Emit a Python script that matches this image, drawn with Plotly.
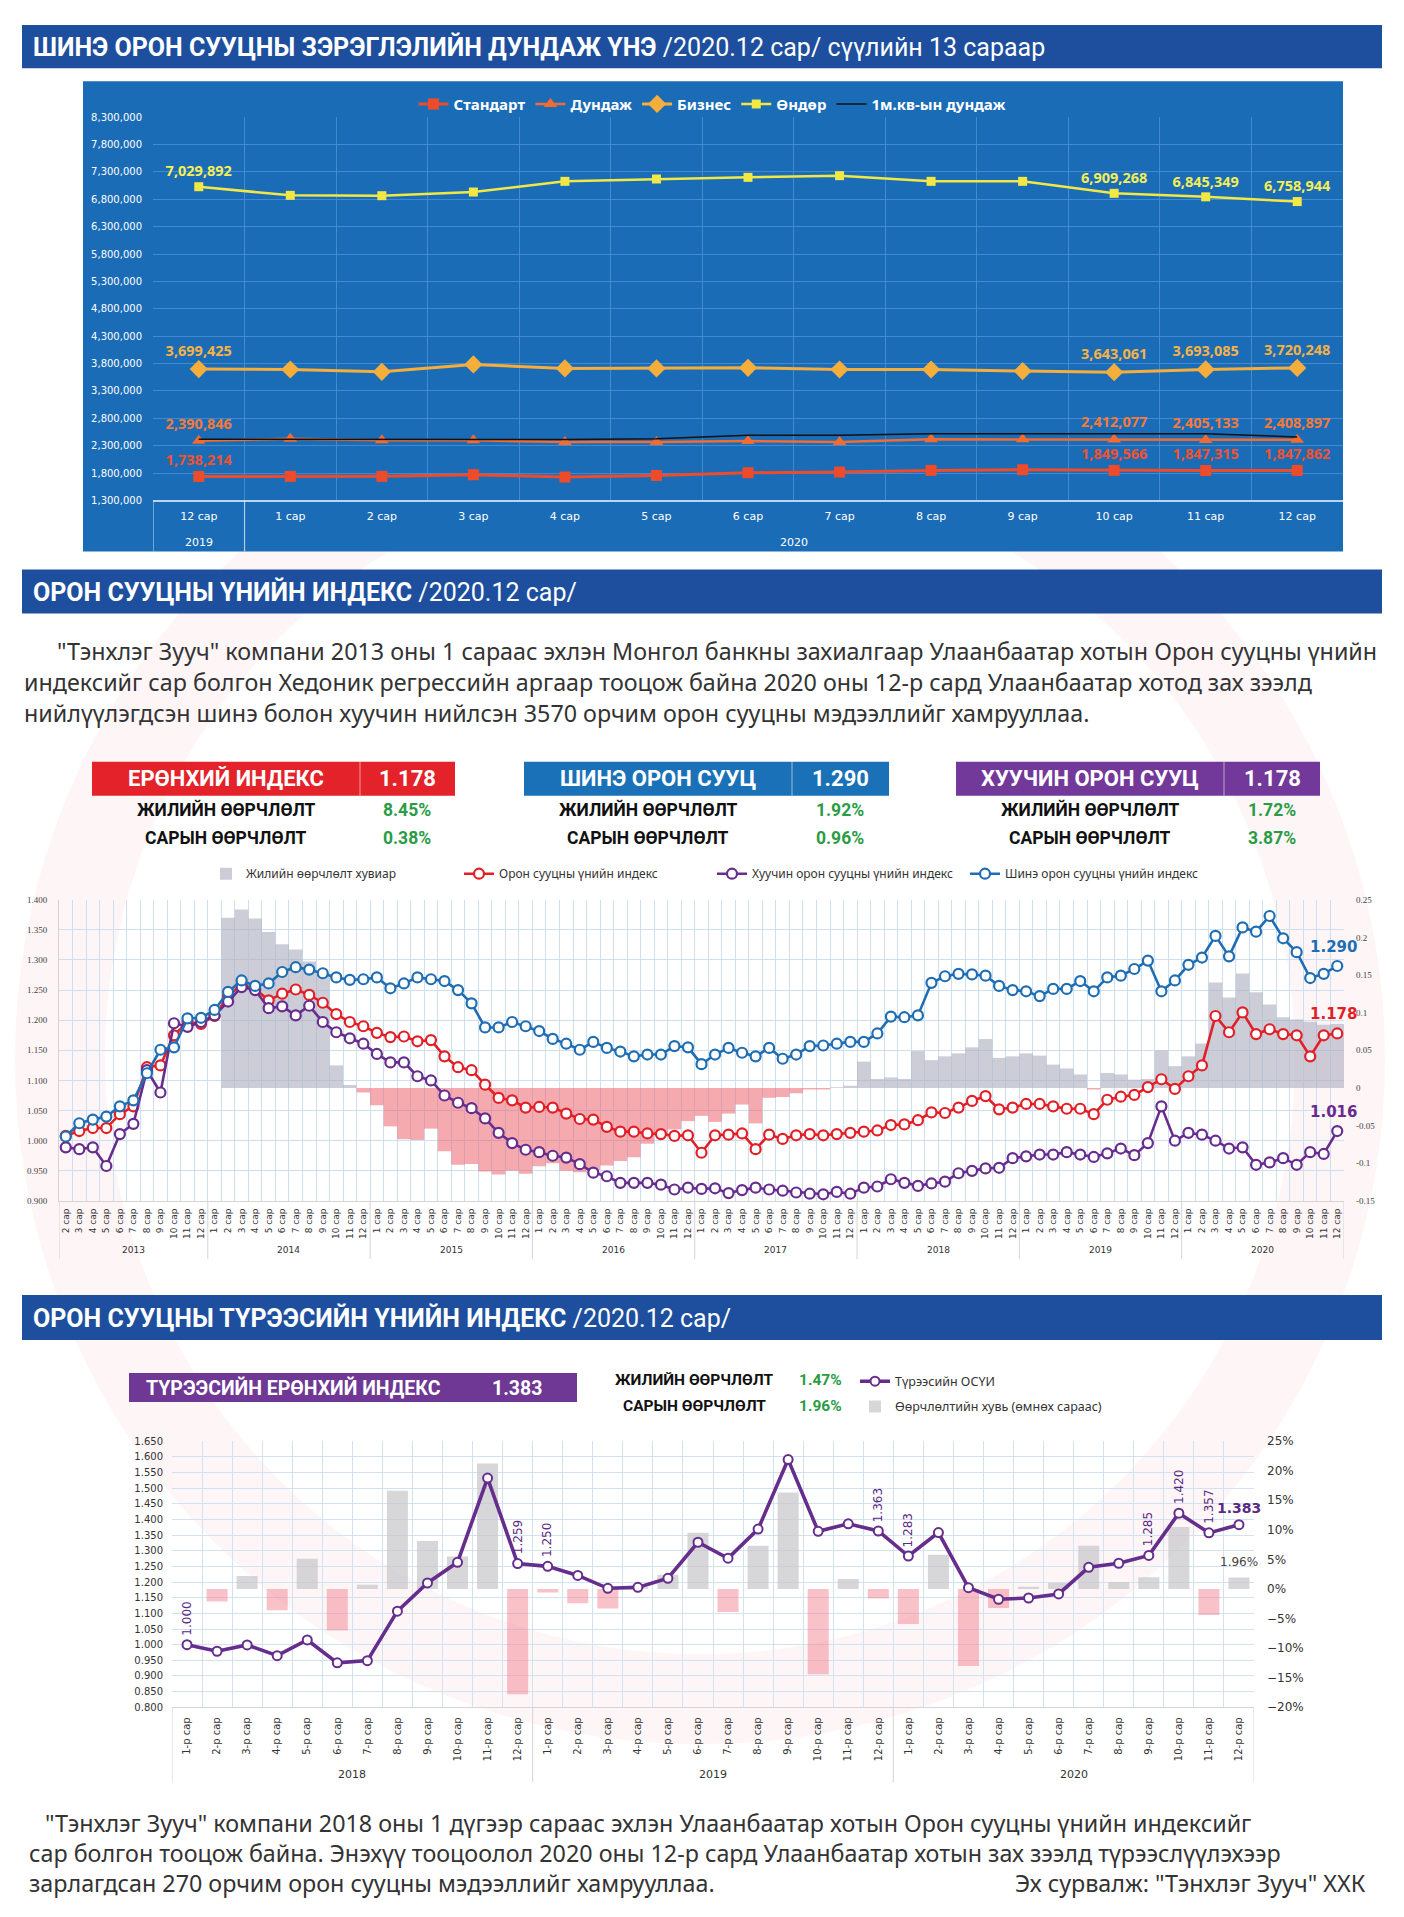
import plotly.graph_objects as go

W, H = 1404, 1917

# ---------------- DATA ----------------
# Chart 1: average price by class (Dec 2019 - Dec 2020)
top_months = ["12 сар", "1 сар", "2 сар", "3 сар", "4 сар", "5 сар", "6 сар",
              "7 сар", "8 сар", "9 сар", "10 сар", "11 сар", "12 сар"]
top_years = ["2019", "2020"]
standart = [1738214, 1740000, 1740000, 1770000, 1727000, 1757000, 1806000,
            1818000, 1849000, 1861000, 1849566, 1847315, 1847862]
dundaj = [2390846, 2429000, 2398000, 2398000, 2368000, 2368000, 2386000,
          2368000, 2417000, 2417000, 2412077, 2405133, 2408897]
biznes = [3699425, 3692000, 3650000, 3784000, 3711000, 3711000, 3723000,
          3692000, 3692000, 3662000, 3643061, 3693085, 3720248]
ondor = [7029892, 6872000, 6866000, 6933000, 7128000, 7171000, 7201000,
         7232000, 7128000, 7128000, 6909268, 6845349, 6758944]
avg_m2 = [2417000, 2417000, 2411000, 2411000, 2411000, 2429000, 2490000,
          2490000, 2520000, 2520000, 2520000, 2520000, 2460000]
top_label_idx = [0, 10, 11, 12]

# Chart 2: housing price index 2013.02 - 2020.12
mid_years = ["2013", "2014", "2015", "2016", "2017", "2018", "2019", "2020"]
mid_first_month = [2, 1, 1, 1, 1, 1, 1, 1]
new_idx = [1.007, 1.029, 1.035, 1.040, 1.057, 1.067, 1.112, 1.151, 1.155, 1.203, 1.204,
           1.217, 1.247, 1.266, 1.257, 1.261, 1.280, 1.288, 1.284, 1.278, 1.271, 1.267, 1.268,
           1.271, 1.253, 1.261, 1.271, 1.268, 1.265, 1.250, 1.228, 1.188, 1.188, 1.197, 1.190,
           1.182, 1.169, 1.161, 1.151, 1.164, 1.154, 1.148, 1.140, 1.143, 1.143, 1.157, 1.155,
           1.127, 1.143, 1.154, 1.146, 1.140, 1.154, 1.136, 1.143, 1.157, 1.158, 1.161, 1.164,
           1.164, 1.178, 1.206, 1.205, 1.208, 1.262, 1.273, 1.277, 1.276, 1.274, 1.257, 1.250,
           1.248, 1.240, 1.252, 1.252, 1.265, 1.248, 1.271, 1.274, 1.285, 1.299, 1.248, 1.266,
           1.292, 1.304, 1.340, 1.306, 1.354, 1.347, 1.373, 1.336, 1.313, 1.270, 1.277, 1.290]
total_idx = [1.008, 1.016, 1.021, 1.021, 1.044, 1.057, 1.122, 1.125, 1.175, 1.197, 1.194,
             1.207, 1.240, 1.259, 1.252, 1.233, 1.244, 1.251, 1.242, 1.229, 1.210, 1.197, 1.190,
             1.179, 1.172, 1.173, 1.165, 1.167, 1.140, 1.122, 1.117, 1.093, 1.071, 1.067, 1.055,
             1.056, 1.055, 1.045, 1.036, 1.035, 1.023, 1.015, 1.015, 1.012, 1.011, 1.008, 1.009,
             0.980, 1.009, 1.010, 1.012, 0.986, 1.010, 1.003, 1.009, 1.011, 1.009, 1.011, 1.013,
             1.015, 1.017, 1.026, 1.027, 1.034, 1.047, 1.046, 1.055, 1.066, 1.074, 1.052, 1.055,
             1.061, 1.061, 1.057, 1.053, 1.053, 1.044, 1.068, 1.073, 1.076, 1.089, 1.102, 1.086,
             1.107, 1.125, 1.207, 1.180, 1.213, 1.177, 1.185, 1.177, 1.175, 1.140, 1.175, 1.178]
old_idx = [0.989, 0.986, 0.989, 0.958, 1.011, 1.028, 1.117, 1.080, 1.195, 1.189, 1.197,
           1.208, 1.231, 1.255, 1.250, 1.220, 1.223, 1.208, 1.224, 1.197, 1.180, 1.170, 1.161,
           1.144, 1.130, 1.130, 1.107, 1.100, 1.075, 1.063, 1.054, 1.037, 1.013, 0.996, 0.985,
           0.981, 0.975, 0.972, 0.961, 0.947, 0.941, 0.930, 0.930, 0.930, 0.927, 0.919, 0.922,
           0.920, 0.921, 0.913, 0.918, 0.922, 0.919, 0.917, 0.914, 0.912, 0.911, 0.915, 0.912,
           0.922, 0.924, 0.936, 0.930, 0.925, 0.929, 0.932, 0.946, 0.950, 0.954, 0.955, 0.971,
           0.974, 0.977, 0.977, 0.981, 0.977, 0.973, 0.979, 0.987, 0.976, 0.996, 1.057, 1.000,
           1.013, 1.010, 1.000, 0.987, 0.989, 0.960, 0.964, 0.971, 0.960, 0.981, 0.978, 1.016]
yoy = [None] * 11 + [
    None, 0.226, 0.237, 0.225, 0.207, 0.191, 0.184, 0.168, 0.150, 0.030, 0.004, -0.006,
    -0.023, -0.051, -0.068, -0.069, -0.054, -0.084, -0.102, -0.101, -0.111, -0.115, -0.110, -0.114,
    -0.104, -0.100, -0.110, -0.112, -0.109, -0.103, -0.097, -0.092, -0.074, -0.063, -0.055, -0.044,
    -0.037, -0.045, -0.034, -0.022, -0.047, -0.013, -0.012, -0.007, -0.002, -0.002, 0.001, 0.003,
    0.035, 0.012, 0.014, 0.012, 0.049, 0.037, 0.042, 0.046, 0.054, 0.065, 0.040, 0.042,
    0.046, 0.043, 0.031, 0.026, 0.018, -0.002, 0.020, 0.018, 0.011, 0.012, 0.050, 0.029,
    0.042, 0.059, 0.140, 0.120, 0.152, 0.127, 0.111, 0.094, 0.091, 0.088, 0.084, 0.085]
right_ticks_mid = [-0.15, -0.1, -0.05, 0, 0.05, 0.1, 0.15, 0.2, 0.25]
right_ticktext_mid = ["-0.15", "-0.1", "-0.05", "0", "0.05", "0.1", "0.15", "0.2", "0.25"]

# Chart 3: rent price index 2018.01 - 2020.12
rent_years = ["2018", "2019", "2020"]
rent_idx = [1.000, 0.979, 0.999, 0.965, 1.015, 0.942, 0.949, 1.107, 1.197, 1.263, 1.532, 1.259,
            1.250, 1.221, 1.180, 1.183, 1.212, 1.327, 1.276, 1.369, 1.591, 1.362, 1.386, 1.363,
            1.283, 1.358, 1.182, 1.145, 1.149, 1.162, 1.247, 1.260, 1.285, 1.420, 1.357, 1.383]
rent_mom = [None, -0.021, 0.022, -0.036, 0.051, -0.070, 0.007, 0.166, 0.081, 0.055, 0.212, -0.178,
            -0.006, -0.024, -0.033, 0.003, 0.024, 0.095, -0.039, 0.073, 0.163, -0.144, 0.017, -0.016,
            -0.059, 0.058, -0.130, -0.032, 0.004, 0.010, 0.073, 0.012, 0.020, 0.105, -0.044, 0.0196]
rent_label_idx = [0, 11, 12, 23, 24, 32, 33, 34]
rent_label_txt = ["1.000", "1.259", "1.250", "1.363", "1.283", "1.285", "1.420", "1.357"]

# KPI values
kpi_total = ["1.178", "8.45%", "0.38%"]
kpi_new = ["1.290", "1.92%", "0.96%"]
kpi_old = ["1.178", "1.72%", "3.87%"]
kpi_rent = ["1.383", "1.47%", "1.96%"]

# ---------------- HELPERS ----------------
def P(y):
    # vertical pixel (from top) -> paper fraction, with a small calibration
    return 1 - ((y - 8.9) / 0.992) / H


def X(x):
    return x / W


mid_labels, mid_year_of = [], []
for yr, m0 in zip(mid_years, mid_first_month):
    for m in range(m0, 13):
        mid_labels.append(f"{m} сар")
        mid_year_of.append(yr)
n_mid = len(mid_labels)
rent_labels = [f"{m}-р сар" for _ in rent_years for m in range(1, 13)]

fig = go.Figure()
FONT = "Noto Sans"
VER = "DejaVu Sans"
TF = "Roboto"

# ---------------- CHART 1 ----------------
xt = list(range(len(top_months)))


def lbl(vals):
    return [f"{v:,}" if i in top_label_idx else "" for i, v in enumerate(vals)]


series_top = [
    ("Стандарт", standart, "#ee4b2b", "square", 11, "#f0522f", 3),
    ("Дундаж", dundaj, "#f26b30", "triangle-up", 12, "#f47a3a", 2.5),
    ("Бизнес", biznes, "#f5ad3c", "diamond", 14, "#f5b246", 3),
    ("Өндөр", ondor, "#f1e845", "square", 9, "#f4ee56", 2.5),
]
for name, vals, col, sym, sz, tcol, lw in series_top:
    fig.add_trace(go.Scatter(
        x=xt, y=vals, name=name, mode="lines+markers+text",
        line=dict(color=col, width=lw), marker=dict(symbol=sym, size=sz, color=col),
        text=lbl(vals), textposition="top center",
        textfont=dict(color=tcol, size=14.5, family=FONT, weight="bold"),
        xaxis="x", yaxis="y", legend="legend", cliponaxis=False, hoverinfo="skip"))
fig.add_trace(go.Scatter(
    x=xt, y=avg_m2, name="1м.кв-ын дундаж", mode="lines",
    line=dict(color="#111111", width=1.5), xaxis="x", yaxis="y", legend="legend"))

# ---------------- CHART 2 ----------------
xm = list(range(n_mid))
yoy_pos = [v if (v is not None and v >= 0) else None for v in yoy]
yoy_neg = [v if (v is not None and v < 0) else None for v in yoy]
fig.add_trace(go.Bar(x=xm, y=yoy_pos, name="Жилийн өөрчлөлт хувиар", width=1,
                     marker=dict(color="rgba(172,172,190,0.6)", line=dict(width=0)),
                     xaxis="x2", yaxis="y2", legend="legend2", legendrank=1))
fig.add_trace(go.Bar(x=xm, y=yoy_neg, name="neg", width=1, showlegend=False,
                     marker=dict(color="rgba(236,86,96,0.5)", line=dict(width=0)),
                     xaxis="x2", yaxis="y2", legend="legend2"))
mid_series = [
    ("Орон сууцны үнийн индекс", total_idx, "#e21f26", 2),
    ("Хуучин орон сууцны үнийн индекс", old_idx, "#672c8e", 3),
    ("Шинэ орон сууцны үнийн индекс", new_idx, "#1f6db3", 4),
]
for name, vals, col, rk in mid_series:
    fig.add_trace(go.Scatter(
        x=xm, y=vals, name=name, mode="lines+markers",
        line=dict(color=col, width=2.6),
        marker=dict(symbol="circle", size=10, color="white", line=dict(color=col, width=2.2)),
        xaxis="x2", yaxis="y3", legend="legend2", legendrank=rk, cliponaxis=False))

# ---------------- CHART 3 ----------------
xr = list(range(len(rent_idx)))
mom_pos = [v if (v is not None and v >= 0) else None for v in rent_mom]
mom_neg = [v if (v is not None and v < 0) else None for v in rent_mom]
fig.add_trace(go.Bar(x=xr, y=mom_pos, name="Өөрчлөлтийн хувь (өмнөх сараас)", width=0.7,
                     marker=dict(color="rgba(200,200,202,0.72)", line=dict(width=0)),
                     xaxis="x3", yaxis="y4", legend="legend3", legendrank=2,
                     legendgroup="b"))
fig.add_trace(go.Bar(x=xr, y=mom_neg, name="neg2", width=0.7, showlegend=False,
                     marker=dict(color="rgba(242,120,132,0.45)", line=dict(width=0)),
                     xaxis="x3", yaxis="y4", legend="legend3", legendgroup="b"))
fig.add_trace(go.Scatter(
    x=xr, y=rent_idx, name="Түрээсийн ОСҮИ", mode="lines+markers",
    line=dict(color="#652d8c", width=3.6),
    marker=dict(symbol="circle", size=9, color="white", line=dict(color="#652d8c", width=2)),
    xaxis="x3", yaxis="y5", legend="legend3", legendrank=1, legendgroup="a", cliponaxis=False))

# ---------------- SHAPES ----------------
shapes = []


def rect(x0, x1, y0, y1, color, layer="below"):
    shapes.append(dict(type="rect", xref="paper", yref="paper", x0=X(x0), x1=X(x1),
                       y0=P(y1), y1=P(y0), fillcolor=color, line=dict(width=0), layer=layer))


def vline_paper(x, y0, y1, color, width=1):
    shapes.append(dict(type="line", xref="paper", yref="paper", x0=X(x), x1=X(x),
                       y0=P(y0), y1=P(y1), line=dict(color=color, width=width)))


# faint watermark circle
shapes.append(dict(type="circle", xref="paper", yref="paper", x0=X(60), x1=X(1340),
                   y0=P(1700), y1=P(420), fillcolor="rgba(0,0,0,0)",
                   line=dict(color="rgba(235,120,135,0.07)", width=90), layer="below"))

rect(22, 1382, 27, 70, "#1d4f9e")
rect(22, 1382, 571, 615, "#1d4f9e")
rect(22, 1382, 1296, 1341, "#1d4f9e")
rect(83, 1343, 83, 553, "#1b6cb6")
# KPI boxes
rect(92, 455, 763, 797, "#e4222a")
rect(524, 889, 763, 797, "#1b71b8")
rect(956, 1320, 763, 797, "#72389a")
for sx in (360, 792, 1224):
    vline_paper(sx, 763, 797, "rgba(255,255,255,0.55)", 1)
rect(129, 577, 1374, 1403, "#6e3894")

# top chart category table lines
for bx in (-0.5, 0.5):
    shapes.append(dict(type="line", xref="x", yref="paper", x0=bx, x1=bx, y0=P(553), y1=P(502),
                       line=dict(color="rgba(220,235,250,0.75)", width=1.2)))
# middle chart year dividers
bounds_mid = [-0.5]
for i in range(1, n_mid):
    if mid_year_of[i] != mid_year_of[i - 1]:
        bounds_mid.append(i - 0.5)
bounds_mid.append(n_mid - 0.5)
for bx in bounds_mid:
    shapes.append(dict(type="line", xref="x2", yref="paper", x0=bx, x1=bx, y0=P(1260), y1=P(1202),
                       line=dict(color="#d4d4d4", width=1)))
# bottom chart year dividers
for bx in (-0.5, 11.5, 23.5, 35.5):
    shapes.append(dict(type="line", xref="x3", yref="paper", x0=bx, x1=bx, y0=P(1783), y1=P(1708),
                       line=dict(color="#d4d4d4", width=1)))

# ---------------- ANNOTATIONS ----------------
ann = []


def text(x, y, s, size, color="#222", weight="normal", xanchor="center", family=FONT, **kw):
    ann.append(dict(xref="paper", yref="paper", x=X(x), y=P(y), text=s, showarrow=False,
                    xanchor=xanchor, yanchor="middle",
                    font=dict(size=size, color=color, family=family, weight=weight), **kw))


text(31, 49, "<b>ШИНЭ ОРОН СУУЦНЫ ЗЭРЭГЛЭЛИЙН ДУНДАЖ ҮНЭ</b> /2020.12 сар/ сүүлийн 13 сараар",
     25, "white", xanchor="left", family=TF)
text(31, 593, "<b>ОРОН СУУЦНЫ ҮНИЙН ИНДЕКС</b> /2020.12 сар/", 25, "white", xanchor="left", family=TF)
text(31, 1319, "<b>ОРОН СУУЦНЫ ТҮРЭЭСИЙН ҮНИЙН ИНДЕКС</b> /2020.12 сар/", 25, "white",
     xanchor="left", family=TF)

# paragraph 1
para1 = ['"Тэнхлэг Зууч" компани 2013 оны 1 сараас эхлэн Монгол банкны захиалгаар Улаанбаатар хотын Орон сууцны үнийн',
         'индексийг сар болгон Хедоник регрессийн аргаар тооцож байна 2020 оны 12-р сард Улаанбаатар хотод зах зээлд',
         'нийлүүлэгдсэн шинэ болон хуучин нийлсэн 3570 орчим орон сууцны мэдээллийг хамрууллаа.']
for i, (s, x0) in enumerate(zip(para1, (55, 22, 22))):
    text(x0, 652 + 31 * i, s, 23.3, "#333", xanchor="left")

para2 = ['"Тэнхлэг Зууч" компани 2018 оны 1 дүгээр сараас эхлэн Улаанбаатар хотын Орон сууцны үнийн индексийг',
         'сар болгон тооцож байна. Энэхүү тооцоолол 2020 оны 12-р сард Улаанбаатар хотын зах зээлд түрээслүүлэхээр',
         'зарлагдсан 270 орчим орон сууцны мэдээллийг хамрууллаа.']
for i, (s, x0) in enumerate(zip(para2, (43, 27, 27))):
    text(x0, 1824 + 30 * i, s, 23.3, "#333", xanchor="left")
text(1368, 1884, 'Эх сурвалж: "Тэнхлэг Зууч" ХХК', 23.3, "#333", xanchor="right")

# KPI texts
boxes = [("ЕРӨНХИЙ ИНДЕКС", kpi_total, 226, 226, 407),
         ("ШИНЭ ОРОН СУУЦ", kpi_new, 658, 648, 840),
         ("ХУУЧИН ОРОН СУУЦ", kpi_old, 1090, 1090, 1272)]
for title, vals, cx, rx, vx in boxes:
    text(cx, 780, title, 22, "white", weight="bold", family=TF)
    text(vx, 780, vals[0], 22, "white", weight="bold", family=TF)
    text(rx, 811, "ЖИЛИЙН ӨӨРЧЛӨЛТ", 17.5, "#111", weight="bold", family=TF)
    text(vx, 811, vals[1], 17.5, "#2a9c45", weight="bold", family=TF)
    text(rx, 839, "САРЫН ӨӨРЧЛӨЛТ", 17.5, "#111", weight="bold", family=TF)
    text(vx, 839, vals[2], 17.5, "#2a9c45", weight="bold", family=TF)

text(144, 1389, "ТҮРЭЭСИЙН ЕРӨНХИЙ ИНДЕКС", 19.5, "white", weight="bold", xanchor="left", family=TF)
text(517, 1389, kpi_rent[0], 19.5, "white", weight="bold", family=TF)
text(694, 1381, "ЖИЛИЙН ӨӨРЧЛӨЛТ", 15.5, "#111", weight="bold", family=TF)
text(821, 1381, kpi_rent[1], 15.5, "#2a9c45", weight="bold", family=TF)
text(694, 1407, "САРЫН ӨӨРЧЛӨЛТ", 15.5, "#111", weight="bold", family=TF)
text(821, 1407, kpi_rent[2], 15.5, "#2a9c45", weight="bold", family=TF)

# chart 1 year labels
ann.append(dict(xref="x", yref="paper", x=0, y=P(544), yanchor="middle", text=top_years[0],
                showarrow=False, font=dict(size=11, color="white", family=VER)))
ann.append(dict(xref="x", yref="paper", x=(1 + len(top_months) - 1) / 2, y=P(544),
                yanchor="middle", text=top_years[1], showarrow=False,
                font=dict(size=11, color="white", family=VER)))

# chart 2 year labels
for yr in mid_years:
    idx = [i for i, v in enumerate(mid_year_of) if v == yr]
    ann.append(dict(xref="x2", yref="paper", x=(idx[0] + idx[-1]) / 2, y=P(1251), text=yr,
                    yanchor="middle", showarrow=False,
                    font=dict(size=9, color="#333", family=VER)))
# chart 2 end labels
for vals, col in ((new_idx, "#1f6db3"), (total_idx, "#e21f26"), (old_idx, "#672c8e")):
    ann.append(dict(xref="x2", yref="y3", x=n_mid - 1, y=vals[-1], text=f"{vals[-1]:.3f}",
                    showarrow=False, yanchor="middle", yshift=19, xshift=-4,
                    font=dict(size=15, color=col, family=VER, weight="bold")))

# chart 3 year labels
for k, yr in enumerate(rent_years):
    ann.append(dict(xref="x3", yref="paper", x=k * 12 + 5.5, y=P(1775), text=yr,
                    yanchor="middle", showarrow=False,
                    font=dict(size=11, color="#333", family=VER)))
for i, s in zip(rent_label_idx, rent_label_txt):
    ann.append(dict(xref="x3", yref="y5", x=i, y=rent_idx[i], text=s, textangle=-90,
                    showarrow=False, yanchor="bottom", yshift=7,
                    font=dict(size=12, color="#5a2a85", family=VER)))
ann.append(dict(xref="x3", yref="y5", x=len(rent_idx) - 1, y=rent_idx[-1],
                text=f"{rent_idx[-1]:.3f}", showarrow=False, yanchor="bottom", yshift=7,
                font=dict(size=14, color="#5a2a85", family=VER, weight="bold")))
ann.append(dict(xref="x3", yref="y4", x=len(rent_mom) - 1, y=rent_mom[-1],
                text=f"{rent_mom[-1] * 100:.2f}%", showarrow=False, yanchor="bottom", yshift=6,
                font=dict(size=12, color="#444", family=VER)))

# ---------------- LAYOUT ----------------
grid_mid = "#cddff1"
fig.update_layout(
    width=W, height=H, margin=dict(l=0, r=0, t=0, b=0),
    paper_bgcolor="white", plot_bgcolor="rgba(0,0,0,0)", barmode="overlay",
    shapes=shapes, annotations=ann, hovermode=False,
    # chart 1
    xaxis=dict(domain=[X(153), X(1343)], anchor="y", range=[-0.5, len(top_months) - 0.5],
               tickvals=xt, ticktext=top_months, tickfont=dict(color="white", size=11, family=VER),
               showgrid=False, zeroline=False, ticks="", ticklabelstandoff=4,
               showline=True, linecolor="rgba(210,230,250,0.85)", linewidth=2,
               minor=dict(tickmode="linear", tick0=0.5, dtick=1, showgrid=True,
                          gridcolor="rgba(120,175,230,0.45)", gridwidth=1, ticks="")),
    yaxis=dict(domain=[P(502), P(119)], anchor="x", range=[1300000, 8300000],
               tick0=1300000, dtick=500000, tickformat=",",
               tickfont=dict(color="white", size=10, family=VER), gridcolor="#3f8ad0",
               gridwidth=1, zeroline=False, ticklabelstandoff=10),
    # chart 2
    xaxis2=dict(domain=[X(59), X(1344)], anchor="y2", range=[-0.5, n_mid - 0.5],
                tickvals=xm, ticktext=mid_labels, tickangle=-90,
                tickfont=dict(size=9, color="#333", family=VER), showgrid=False, zeroline=False,
                ticks="", showline=True, linecolor="#d4d4d4", ticklabelstandoff=3,
                minor=dict(tickmode="linear", tick0=0.5, dtick=1, showgrid=True,
                           gridcolor=grid_mid, gridwidth=1.4, ticks="")),
    yaxis2=dict(domain=[P(1202), P(901)], anchor="x2", side="right", range=[-0.15, 0.25],
                tickvals=right_ticks_mid, ticktext=right_ticktext_mid, showgrid=False,
                zeroline=False, tickfont=dict(size=9, color="#444", family="Liberation Serif"),
                ticklabelstandoff=11),
    yaxis3=dict(overlaying="y2", anchor="x2", side="left", range=[0.9, 1.4], tick0=0.9,
                dtick=0.05, tickformat=".3f", gridcolor=grid_mid, gridwidth=1.4, zeroline=False,
                showline=True, linecolor="#d4d4d4",
                tickfont=dict(size=9, color="#444", family="Liberation Serif"),
                ticklabelstandoff=9),
    # chart 3
    xaxis3=dict(domain=[X(172), X(1254)], anchor="y4", range=[-0.5, len(rent_idx) - 0.5],
                tickvals=xr, ticktext=rent_labels, tickangle=-90,
                tickfont=dict(size=10, color="#333", family=VER), showgrid=False,
                zeroline=False, ticks="", showline=True, linecolor="#d4d4d4",
                ticklabelstandoff=5,
                minor=dict(tickmode="linear", tick0=0.5, dtick=1, showgrid=True,
                           gridcolor="#d3e2f1", gridwidth=1.2, ticks="")),
    yaxis4=dict(domain=[P(1708), P(1442)], anchor="x3", side="right", range=[-0.20, 0.25],
                tick0=-0.20, dtick=0.05, tickformat=".0%", showgrid=False, zeroline=False,
                tickfont=dict(size=12, color="#333", family=VER), ticklabelstandoff=12),
    yaxis5=dict(overlaying="y4", anchor="x3", side="left", range=[0.8, 1.65], tick0=0.8,
                dtick=0.05, tickformat=".3f", gridcolor="#d3e2f1", gridwidth=1.2,
                zeroline=False, tickfont=dict(size=10, color="#333", family=VER),
                ticklabelstandoff=8),
    legend=dict(x=X(712), xanchor="center", y=P(106), yanchor="middle", orientation="h",
                font=dict(color="white", size=15, family=FONT, weight="bold"),
                bgcolor="rgba(0,0,0,0)", itemwidth=30),
    legend2=dict(x=X(206), xanchor="left", y=P(875), yanchor="middle", orientation="h",
                 font=dict(color="#333", size=12, family=FONT), bgcolor="rgba(0,0,0,0)",
                 entrywidth=208, itemwidth=30),
    legend3=dict(x=X(855), xanchor="left", y=P(1395), yanchor="middle", orientation="v",
                 font=dict(color="#333", size=12.5, family=FONT), bgcolor="rgba(0,0,0,0)",
                 tracegroupgap=6, itemwidth=30),
)

fig.write_html("out.html", config={"displayModeBar": False},
               post_script="document.body.style.margin='0px';document.body.style.overflow='hidden';")
